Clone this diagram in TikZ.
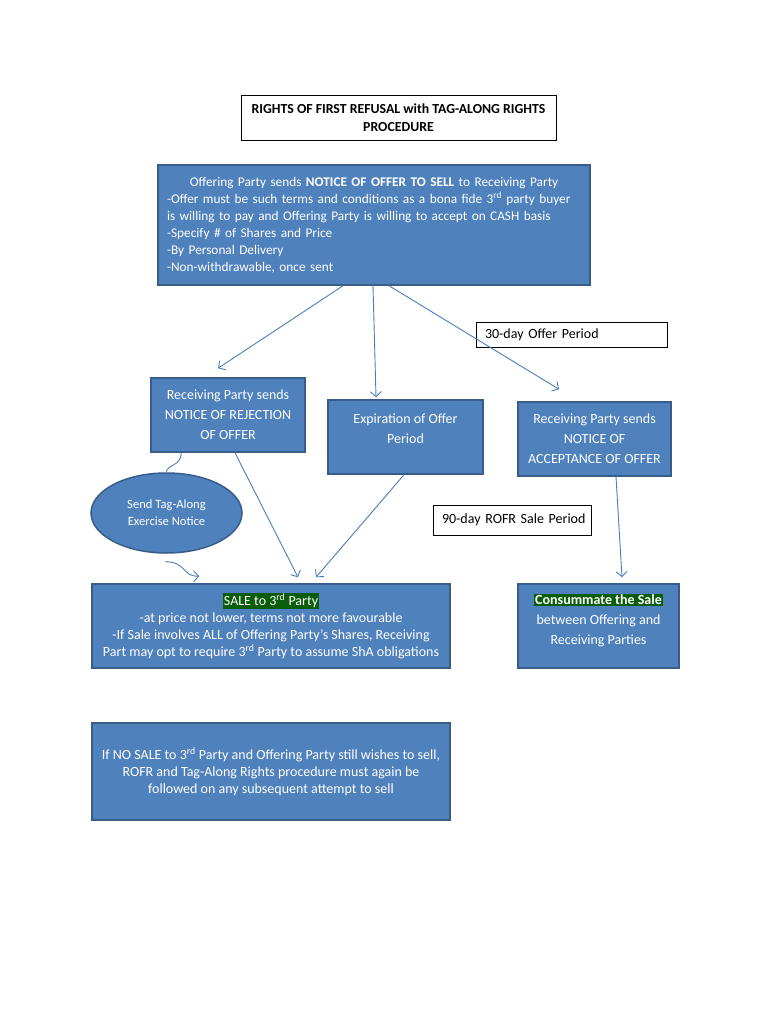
\documentclass[tikz,border=0pt]{standalone}
\usepackage{fontspec}
\setmainfont{Carlito}
\usetikzlibrary{shapes.geometric,arrows.meta}
\definecolor{boxblue}{HTML}{4F81BD}
\definecolor{boxedge}{HTML}{385D8A}
\definecolor{linkblue}{HTML}{4A7EBB}
\definecolor{hlgreen}{HTML}{0B5D0B}
\newcommand{\greenmark}[1]{{\setlength{\fboxsep}{1pt}\colorbox{hlgreen}{#1}}}
\newcommand{\thrd}{3\textsuperscript{rd}}
\tikzset{
  bluebox/.style={draw=boxedge, fill=boxblue, line width=1.5pt, text=white, inner sep=0pt, align=center,
    font=\fontsize{14}{20}\selectfont},
  labelbox/.style={draw=black, fill=white, line width=0.8pt, inner sep=0pt, inner xsep=9pt, align=left,
    font=\fontsize{14}{15}\selectfont},
  arr/.style={draw=linkblue, line width=0.9pt, -{Straight Barb[length=5pt,width=11pt]}},
  curl/.style={draw=linkblue, line width=0.9pt},
}
\begin{document}
\begin{tikzpicture}[x=1pt, y=-1pt]
  \useasboundingbox (0,0) rectangle (768,1024);
  \fill[white] (0,0) rectangle (768,1024);

  % title
  \node[draw=black, line width=0.8pt, minimum width=315pt, minimum height=45pt, align=center,
        font=\fontsize{13.8}{18}\selectfont\bfseries] (title) at (398.5,117.5)
        {RIGHTS OF FIRST REFUSAL with TAG-ALONG RIGHTS\\PROCEDURE};

  % notice of offer
  \node[bluebox, minimum width=432pt, minimum height=120pt, text width=414pt, align=left,
        font=\fontsize{13.3}{17}\selectfont] (offer) at (374,225)
        {\centering Offering Party sends \textbf{NOTICE OF OFFER TO SELL} to Receiving Party\par
         \raggedright -Offer must be such terms and conditions as a bona fide \thrd{} party buyer\\
         is willing to pay and Offering Party is willing to accept on CASH basis\\
         -Specify \# of Shares and Price\\
         -By Personal Delivery\\
         -Non-withdrawable, once sent};

  % three answers
  \node[bluebox, minimum width=154pt, minimum height=74pt] (reject) at (228,415)
        {Receiving Party sends\\NOTICE OF REJECTION\\OF OFFER};
  \node[bluebox, minimum width=155pt, minimum height=74pt] (expire) at (405.5,437)
        {Expiration of Offer\\Period\\[-4pt]};
  \node[bluebox, minimum width=153pt, minimum height=74pt] (accept) at (594.5,439)
        {Receiving Party sends\\NOTICE OF\\ACCEPTANCE OF OFFER};

  \node[labelbox, minimum width=191pt, minimum height=25pt, text width=173pt] (period30) at (571.5,334.5)
        {30-day Offer Period};
  \node[labelbox, minimum width=158pt, minimum height=30pt, text width=140pt] (period90) at (512,520)
        {\mbox{90-day ROFR Sale Period}};

  \node[bluebox, ellipse, minimum width=151pt, minimum height=80pt, font=\fontsize{12.6}{17}\selectfont] (tag) at (166.5,513)
        {Send Tag-Along\\Exercise Notice};

  % outcomes
  \node[bluebox, minimum width=358pt, minimum height=84pt, font=\fontsize{14}{17}\selectfont] (sale) at (271,626)
        {\greenmark{SALE to \thrd{} Party}\\
         -at price not lower, terms not more favourable\\
         -If Sale involves ALL of Offering Party's Shares, Receiving\\
         Part may opt to require \thrd{} Party to assume ShA obligations};
  \node[bluebox, minimum width=161pt, minimum height=84pt] (consum) at (598.5,626)
        {\greenmark{\textbf{Consummate the Sale}}\\between Offering and\\Receiving Parties\\[-6pt]};

  \node[bluebox, minimum width=358pt, minimum height=97pt, font=\fontsize{14}{17}\selectfont] (again) at (271,771.5)
        {If NO SALE to \thrd{} Party and Offering Party still wishes to sell,\\
         ROFR and Tag-Along Rights procedure must again be\\
         followed on any subsequent attempt to sell};

  % connectors
  \draw[arr] ([xshift=-31pt]offer.south) -- ([xshift=-10pt,yshift=9pt]reject.north);
  \draw[arr] ([xshift=-1pt]offer.south) -- ([xshift=-29.5pt,yshift=2pt]expire.north);
  \draw[arr] ([xshift=15pt]offer.south) -- ([xshift=-35.5pt,yshift=12pt]accept.north);
  \draw[arr] ([xshift=7pt]reject.south) -- ([xshift=27pt,yshift=6pt]sale.north);
  \draw[arr] ([xshift=-1.5pt]expire.south) -- ([xshift=45pt,yshift=6pt]sale.north);
  \draw[arr] ([xshift=21.5pt]accept.south) -- ([xshift=23.5pt,yshift=6pt]consum.north);
  \draw[curl] ([xshift=31pt]reject.south west) .. controls +(0,14) and +(0,-8) .. (tag.north);
  \draw[arr] ([xshift=-1.5pt,yshift=-8pt]tag.south) .. controls +(22,0) and +(-18,0) ..
    ([xshift=108pt,yshift=7pt]sale.north west);
\end{tikzpicture}
\end{document}
